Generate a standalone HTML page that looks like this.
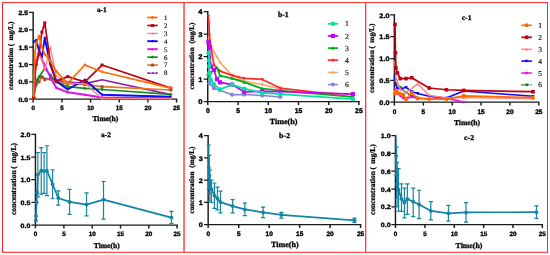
<!DOCTYPE html>
<html><head><meta charset="utf-8"><title>Concentration-time curves</title>
<style>html,body{margin:0;padding:0;background:#fff}svg{display:block}</style></head>
<body><svg width="550" height="255" viewBox="0 0 550 255" style="text-rendering:geometricPrecision">
<rect width="550" height="255" fill="#fff"/>
<path d="M33.15 11.83V102.60" stroke="#1a1a1a" stroke-width="1.45" fill="none"/>
<path d="M29.05 99.20H177.28M29.05 81.85H33.15M29.05 64.50H33.15M29.05 47.15H33.15M29.05 29.80H33.15M29.05 12.45H33.15" stroke="#1a1a1a" stroke-width="1.25" fill="none"/>
<path d="M61.95 99.20V102.60M90.60 99.20V102.60M119.25 99.20V102.60M147.90 99.20V102.60M176.55 99.20V102.60" stroke="#1a1a1a" stroke-width="1.45" fill="none"/>
<polyline points="33.78,97.47 36.16,83.59 39.03,77.69 41.89,76.30 44.76,78.38 50.49,79.07 56.22,80.11 67.68,81.85 84.87,83.59 102.06,79.77 170.82,94.69" fill="none" stroke="#9322a8" stroke-width="1.7" stroke-linejoin="round"/>











<polyline points="33.78,98.51 34.73,87.75 36.16,84.63 39.03,81.85 41.89,76.99 44.76,79.77 50.49,79.07 56.22,81.85 67.68,83.59 84.87,84.63 102.06,86.71 170.82,90.00" fill="none" stroke="#e8741c" stroke-width="1.7" stroke-linejoin="round"/>
<rect x="32.28" y="97.01" width="3.00" height="3.00" fill="#8a5a3a"/>
<rect x="33.23" y="86.25" width="3.00" height="3.00" fill="#8a5a3a"/>
<rect x="34.66" y="83.13" width="3.00" height="3.00" fill="#8a5a3a"/>
<rect x="37.53" y="80.35" width="3.00" height="3.00" fill="#8a5a3a"/>
<rect x="40.39" y="75.49" width="3.00" height="3.00" fill="#8a5a3a"/>
<rect x="43.26" y="78.27" width="3.00" height="3.00" fill="#8a5a3a"/>
<rect x="48.99" y="77.57" width="3.00" height="3.00" fill="#8a5a3a"/>
<rect x="54.72" y="80.35" width="3.00" height="3.00" fill="#8a5a3a"/>
<rect x="66.18" y="82.09" width="3.00" height="3.00" fill="#8a5a3a"/>
<rect x="83.37" y="83.13" width="3.00" height="3.00" fill="#8a5a3a"/>
<rect x="100.56" y="85.21" width="3.00" height="3.00" fill="#8a5a3a"/>
<rect x="169.32" y="88.50" width="3.00" height="3.00" fill="#8a5a3a"/>
<polyline points="33.78,98.51 34.73,83.59 39.03,76.82 44.76,68.49 50.49,75.26 56.22,81.85 67.68,86.71 84.87,88.44 102.06,89.48 170.82,94.34" fill="none" stroke="#138a22" stroke-width="1.7" stroke-linejoin="round"/>
<circle cx="33.78" cy="98.51" r="1.40" fill="#138a22"/>
<circle cx="34.73" cy="83.59" r="1.40" fill="#138a22"/>
<circle cx="39.03" cy="76.82" r="1.40" fill="#138a22"/>
<circle cx="44.76" cy="68.49" r="1.40" fill="#138a22"/>
<circle cx="50.49" cy="75.26" r="1.40" fill="#138a22"/>
<circle cx="56.22" cy="81.85" r="1.40" fill="#138a22"/>
<circle cx="67.68" cy="86.71" r="1.40" fill="#138a22"/>
<circle cx="84.87" cy="88.44" r="1.40" fill="#138a22"/>
<circle cx="102.06" cy="89.48" r="1.40" fill="#138a22"/>
<circle cx="170.82" cy="94.34" r="1.40" fill="#138a22"/>
<polyline points="33.78,97.47 34.73,71.44 36.16,61.03 39.03,51.31 41.89,59.30 44.76,65.19 50.49,77.69 56.22,87.75 67.68,92.26 84.87,94.69 102.06,97.47 170.82,98.51" fill="none" stroke="#e010e8" stroke-width="1.9" stroke-linejoin="round"/>
<path d="M32.38 97.47L33.78 96.06L35.18 97.47L33.78 98.87Z" fill="#e010e8"/>
<path d="M33.33 71.44L34.73 70.04L36.13 71.44L34.73 72.84Z" fill="#e010e8"/>
<path d="M34.77 61.03L36.16 59.63L37.56 61.03L36.16 62.43Z" fill="#e010e8"/>
<path d="M37.63 51.31L39.03 49.91L40.43 51.31L39.03 52.71Z" fill="#e010e8"/>
<path d="M40.49 59.30L41.89 57.90L43.29 59.30L41.89 60.70Z" fill="#e010e8"/>
<path d="M43.36 65.19L44.76 63.79L46.16 65.19L44.76 66.59Z" fill="#e010e8"/>
<path d="M49.09 77.69L50.49 76.29L51.89 77.69L50.49 79.09Z" fill="#e010e8"/>
<path d="M54.82 87.75L56.22 86.35L57.62 87.75L56.22 89.15Z" fill="#e010e8"/>
<path d="M66.28 92.26L67.68 90.86L69.08 92.26L67.68 93.66Z" fill="#e010e8"/>
<path d="M83.47 94.69L84.87 93.29L86.27 94.69L84.87 96.09Z" fill="#e010e8"/>
<path d="M100.66 97.47L102.06 96.06L103.46 97.47L102.06 98.87Z" fill="#e010e8"/>
<path d="M169.42 98.51L170.82 97.11L172.22 98.51L170.82 99.91Z" fill="#e010e8"/>
<polyline points="33.78,41.95 36.16,40.21 39.03,50.62 41.89,56.87 44.76,37.78 50.49,65.19 56.22,81.16 67.68,89.48 84.87,79.77 102.06,94.69 170.82,96.77" fill="none" stroke="#0a0aff" stroke-width="1.9" stroke-linejoin="round"/>
<path d="M32.38 40.83L35.18 40.83L33.78 43.34Z" fill="#0a0aff"/>
<path d="M34.77 39.09L37.56 39.09L36.16 41.61Z" fill="#0a0aff"/>
<path d="M37.63 49.50L40.43 49.50L39.03 52.02Z" fill="#0a0aff"/>
<path d="M40.49 55.75L43.29 55.75L41.89 58.27Z" fill="#0a0aff"/>
<path d="M43.36 36.66L46.16 36.66L44.76 39.18Z" fill="#0a0aff"/>
<path d="M49.09 64.07L51.89 64.07L50.49 66.59Z" fill="#0a0aff"/>
<path d="M54.82 80.04L57.62 80.04L56.22 82.56Z" fill="#0a0aff"/>
<path d="M66.28 88.36L69.08 88.36L67.68 90.88Z" fill="#0a0aff"/>
<path d="M83.47 78.65L86.27 78.65L84.87 81.17Z" fill="#0a0aff"/>
<path d="M100.66 93.57L103.46 93.57L102.06 96.09Z" fill="#0a0aff"/>
<path d="M169.42 95.65L172.22 95.65L170.82 98.17Z" fill="#0a0aff"/>
<polyline points="33.78,97.47 34.73,67.97 36.16,57.56 39.03,53.05 41.89,60.34 44.76,69.70 50.49,47.50 56.22,76.30 67.68,83.24 84.87,83.59 102.06,98.51 170.82,98.51" fill="none" stroke="#ff7f7f" stroke-width="1.25" stroke-linejoin="round"/>
<path d="M32.48 98.51L35.08 98.51L33.78 96.17Z" fill="#ff7f7f"/>
<path d="M33.43 69.01L36.03 69.01L34.73 66.67Z" fill="#ff7f7f"/>
<path d="M34.87 58.60L37.46 58.60L36.16 56.26Z" fill="#ff7f7f"/>
<path d="M37.73 54.09L40.33 54.09L39.03 51.75Z" fill="#ff7f7f"/>
<path d="M40.59 61.38L43.19 61.38L41.89 59.04Z" fill="#ff7f7f"/>
<path d="M43.46 70.75L46.06 70.75L44.76 68.41Z" fill="#ff7f7f"/>
<path d="M49.19 48.54L51.79 48.54L50.49 46.20Z" fill="#ff7f7f"/>
<path d="M54.92 77.34L57.52 77.34L56.22 75.00Z" fill="#ff7f7f"/>
<path d="M66.38 84.28L68.98 84.28L67.68 81.94Z" fill="#ff7f7f"/>
<path d="M83.57 84.63L86.17 84.63L84.87 82.29Z" fill="#ff7f7f"/>
<path d="M100.76 99.55L103.36 99.55L102.06 97.21Z" fill="#ff7f7f"/>
<path d="M169.52 99.55L172.12 99.55L170.82 97.21Z" fill="#ff7f7f"/>
<polyline points="33.78,97.47 34.73,78.38 36.16,64.50 39.03,54.09 41.89,32.23 44.76,22.86 50.49,62.77 56.22,81.16 67.68,76.64 84.87,81.85 102.06,65.02 170.82,88.10" fill="none" stroke="#c1000f" stroke-width="1.7" stroke-linejoin="round"/>
<rect x="32.28" y="95.97" width="3.00" height="3.00" fill="#c1000f"/>
<rect x="33.23" y="76.88" width="3.00" height="3.00" fill="#c1000f"/>
<rect x="34.66" y="63.00" width="3.00" height="3.00" fill="#c1000f"/>
<rect x="37.53" y="52.59" width="3.00" height="3.00" fill="#c1000f"/>
<rect x="40.39" y="30.73" width="3.00" height="3.00" fill="#c1000f"/>
<rect x="43.26" y="21.36" width="3.00" height="3.00" fill="#c1000f"/>
<rect x="48.99" y="61.27" width="3.00" height="3.00" fill="#c1000f"/>
<rect x="54.72" y="79.66" width="3.00" height="3.00" fill="#c1000f"/>
<rect x="66.18" y="75.14" width="3.00" height="3.00" fill="#c1000f"/>
<rect x="83.37" y="80.35" width="3.00" height="3.00" fill="#c1000f"/>
<rect x="100.56" y="63.52" width="3.00" height="3.00" fill="#c1000f"/>
<rect x="169.32" y="86.60" width="3.00" height="3.00" fill="#c1000f"/>
<polyline points="33.78,95.73 34.73,54.09 36.16,43.68 39.03,36.05 41.89,47.15 44.76,54.09 50.49,61.03 56.22,71.44 67.68,83.24 84.87,65.02 102.06,71.79 170.82,88.10" fill="none" stroke="#ff6a00" stroke-width="1.7" stroke-linejoin="round"/>
<circle cx="33.78" cy="95.73" r="1.40" fill="#ff6a00"/>
<circle cx="34.73" cy="54.09" r="1.40" fill="#ff6a00"/>
<circle cx="36.16" cy="43.68" r="1.40" fill="#ff6a00"/>
<circle cx="39.03" cy="36.05" r="1.40" fill="#ff6a00"/>
<circle cx="41.89" cy="47.15" r="1.40" fill="#ff6a00"/>
<circle cx="44.76" cy="54.09" r="1.40" fill="#ff6a00"/>
<circle cx="50.49" cy="61.03" r="1.40" fill="#ff6a00"/>
<circle cx="56.22" cy="71.44" r="1.40" fill="#ff6a00"/>
<circle cx="67.68" cy="83.24" r="1.40" fill="#ff6a00"/>
<circle cx="84.87" cy="65.02" r="1.40" fill="#ff6a00"/>
<circle cx="102.06" cy="71.79" r="1.40" fill="#ff6a00"/>
<circle cx="170.82" cy="88.10" r="1.40" fill="#ff6a00"/>
<text x="33.30" y="110.30" font-size="6.2" text-anchor="middle" font-family="Liberation Sans, Arial, sans-serif" font-weight="bold" stroke="#000" stroke-width="0.36" fill="#000">0</text>
<text x="61.95" y="110.30" font-size="6.2" text-anchor="middle" font-family="Liberation Sans, Arial, sans-serif" font-weight="bold" stroke="#000" stroke-width="0.36" fill="#000">5</text>
<text x="90.60" y="110.30" font-size="6.2" text-anchor="middle" font-family="Liberation Sans, Arial, sans-serif" font-weight="bold" stroke="#000" stroke-width="0.36" fill="#000">10</text>
<text x="119.25" y="110.30" font-size="6.2" text-anchor="middle" font-family="Liberation Sans, Arial, sans-serif" font-weight="bold" stroke="#000" stroke-width="0.36" fill="#000">15</text>
<text x="147.90" y="110.30" font-size="6.2" text-anchor="middle" font-family="Liberation Sans, Arial, sans-serif" font-weight="bold" stroke="#000" stroke-width="0.36" fill="#000">20</text>
<text x="176.55" y="110.30" font-size="6.2" text-anchor="middle" font-family="Liberation Sans, Arial, sans-serif" font-weight="bold" stroke="#000" stroke-width="0.36" fill="#000">25</text>
<text x="18.45" y="101.83" font-size="6.2" textLength="9.65" lengthAdjust="spacingAndGlyphs" font-family="Liberation Sans, Arial, sans-serif" font-weight="bold" stroke="#000" stroke-width="0.36" fill="#000">0.0</text>
<text x="18.45" y="84.48" font-size="6.2" textLength="9.65" lengthAdjust="spacingAndGlyphs" font-family="Liberation Sans, Arial, sans-serif" font-weight="bold" stroke="#000" stroke-width="0.36" fill="#000">0.5</text>
<text x="18.45" y="67.13" font-size="6.2" textLength="9.65" lengthAdjust="spacingAndGlyphs" font-family="Liberation Sans, Arial, sans-serif" font-weight="bold" stroke="#000" stroke-width="0.36" fill="#000">1.0</text>
<text x="18.45" y="49.78" font-size="6.2" textLength="9.65" lengthAdjust="spacingAndGlyphs" font-family="Liberation Sans, Arial, sans-serif" font-weight="bold" stroke="#000" stroke-width="0.36" fill="#000">1.5</text>
<text x="18.45" y="32.43" font-size="6.2" textLength="9.65" lengthAdjust="spacingAndGlyphs" font-family="Liberation Sans, Arial, sans-serif" font-weight="bold" stroke="#000" stroke-width="0.36" fill="#000">2.0</text>
<text x="18.45" y="15.08" font-size="6.2" textLength="9.65" lengthAdjust="spacingAndGlyphs" font-family="Liberation Sans, Arial, sans-serif" font-weight="bold" stroke="#000" stroke-width="0.36" fill="#000">2.5</text>
<text x="96.90" y="11.70" font-size="7.1" textLength="9.6" lengthAdjust="spacingAndGlyphs" font-family="Liberation Serif, Times New Roman, serif" font-weight="bold" stroke="#000" stroke-width="0.3" fill="#000">a-1</text>
<text x="92.40" y="121.30" font-size="7.5" textLength="25.9" lengthAdjust="spacingAndGlyphs" font-family="Liberation Serif, Times New Roman, serif" font-weight="bold" stroke="#000" stroke-width="0.3" fill="#000">Time(h)</text>
<text transform="translate(13.40 90.00) rotate(-90)" font-size="7.2" font-family="Liberation Serif, Times New Roman, serif" font-weight="bold" stroke="#000" stroke-width="0.25" fill="#000">concentration<tspan dx="1.5">(</tspan><tspan dx="1.5"> mg/L)</tspan></text>
<path d="M147.30 17.50H157.70" stroke="#ff6a00" stroke-width="1.7"/>
<circle cx="152.50" cy="17.50" r="1.40" fill="#ff6a00"/>
<text transform="translate(164.00 19.88) scale(0.25 0.25)" font-size="27.6" font-family="Liberation Serif, Times New Roman, serif" stroke="#111" stroke-width="0.6" fill="#000">1</text>
<path d="M147.30 25.50H157.70" stroke="#c1000f" stroke-width="1.7"/>
<rect x="151.00" y="24.00" width="3.00" height="3.00" fill="#c1000f"/>
<text transform="translate(164.00 27.88) scale(0.25 0.25)" font-size="27.6" font-family="Liberation Serif, Times New Roman, serif" stroke="#111" stroke-width="0.6" fill="#000">2</text>
<path d="M147.30 33.40H157.70" stroke="#ff7f7f" stroke-width="1.25"/>
<path d="M151.20 34.44L153.80 34.44L152.50 32.10Z" fill="#ff7f7f"/>
<text transform="translate(164.00 35.78) scale(0.25 0.25)" font-size="27.6" font-family="Liberation Serif, Times New Roman, serif" stroke="#111" stroke-width="0.6" fill="#000">3</text>
<path d="M147.30 41.20H157.70" stroke="#0a0aff" stroke-width="1.9"/>
<path d="M151.10 40.08L153.90 40.08L152.50 42.60Z" fill="#0a0aff"/>
<text transform="translate(164.00 43.58) scale(0.25 0.25)" font-size="27.6" font-family="Liberation Serif, Times New Roman, serif" stroke="#111" stroke-width="0.6" fill="#000">4</text>
<path d="M147.30 49.20H157.70" stroke="#e010e8" stroke-width="1.9"/>
<path d="M151.10 49.20L152.50 47.80L153.90 49.20L152.50 50.60Z" fill="#e010e8"/>
<text transform="translate(164.00 51.58) scale(0.25 0.25)" font-size="27.6" font-family="Liberation Serif, Times New Roman, serif" stroke="#111" stroke-width="0.6" fill="#000">5</text>
<path d="M147.30 57.20H157.70" stroke="#138a22" stroke-width="1.7"/>
<circle cx="152.50" cy="57.20" r="1.40" fill="#138a22"/>
<text transform="translate(164.00 59.58) scale(0.25 0.25)" font-size="27.6" font-family="Liberation Serif, Times New Roman, serif" stroke="#111" stroke-width="0.6" fill="#000">6</text>
<path d="M147.30 65.10H157.70" stroke="#e8741c" stroke-width="1.7"/>
<rect x="151.00" y="63.60" width="3.00" height="3.00" fill="#8a5a3a"/>
<text transform="translate(164.00 67.48) scale(0.25 0.25)" font-size="27.6" font-family="Liberation Serif, Times New Roman, serif" stroke="#111" stroke-width="0.6" fill="#000">7</text>
<path d="M147.30 73.10H157.70" stroke="#9322a8" stroke-width="1.7" stroke-dasharray="3.2 0.8"/>

<text transform="translate(164.00 75.48) scale(0.25 0.25)" font-size="27.6" font-family="Liberation Serif, Times New Roman, serif" stroke="#111" stroke-width="0.6" fill="#000">8</text>
<path d="M35.45 133.78V228.40" stroke="#1a1a1a" stroke-width="1.45" fill="none"/>
<path d="M31.35 225.00H177.82M31.35 202.35H35.45M31.35 179.70H35.45M31.35 157.05H35.45M31.35 134.40H35.45" stroke="#1a1a1a" stroke-width="1.25" fill="none"/>
<path d="M63.90 225.00V228.40M92.20 225.00V228.40M120.50 225.00V228.40M148.80 225.00V228.40M177.10 225.00V228.40" stroke="#1a1a1a" stroke-width="1.45" fill="none"/>
<path d="M37.86 152.52V196.91M35.76 152.52H39.96M35.76 196.91H39.96" stroke="#1583a3" stroke-width="1.2" fill="none"/>
<path d="M41.26 147.54V194.20M39.16 147.54H43.36M39.16 194.20H43.36" stroke="#1583a3" stroke-width="1.2" fill="none"/>
<path d="M44.09 152.52V193.29M41.99 152.52H46.19M41.99 193.29H46.19" stroke="#1583a3" stroke-width="1.2" fill="none"/>
<path d="M46.92 145.73V195.56M44.82 145.73H49.02M44.82 195.56H49.02" stroke="#1583a3" stroke-width="1.2" fill="none"/>
<path d="M52.58 169.73V198.73M50.48 169.73H54.68M50.48 198.73H54.68" stroke="#1583a3" stroke-width="1.2" fill="none"/>
<path d="M58.24 190.80V205.07M56.14 190.80H60.34M56.14 205.07H60.34" stroke="#1583a3" stroke-width="1.2" fill="none"/>
<path d="M69.56 189.39V214.31M67.46 189.39H71.66M67.46 214.31H71.66" stroke="#1583a3" stroke-width="1.2" fill="none"/>
<path d="M86.54 192.84V215.94M84.44 192.84H88.64M84.44 215.94H88.64" stroke="#1583a3" stroke-width="1.2" fill="none"/>
<path d="M103.52 181.51V219.20M101.42 181.51H105.62M101.42 219.20H105.62" stroke="#1583a3" stroke-width="1.2" fill="none"/>
<path d="M171.44 211.41V223.64M169.34 211.41H173.54M169.34 223.64H173.54" stroke="#1583a3" stroke-width="1.2" fill="none"/>
<polyline points="35.88,220.47 36.07,215.94 36.55,202.35 37.02,192.38 37.86,174.72 41.26,170.64 44.09,171.09 46.92,170.64 52.58,184.23 58.24,198.00 69.56,201.90 86.54,204.62 103.52,199.63 171.44,217.62" fill="none" stroke="#1583a3" stroke-width="1.7" stroke-linejoin="round"/>
<circle cx="35.88" cy="220.47" r="1.90" fill="#1583a3"/>
<circle cx="36.07" cy="215.94" r="1.90" fill="#1583a3"/>
<circle cx="36.55" cy="202.35" r="1.90" fill="#1583a3"/>
<circle cx="37.02" cy="192.38" r="1.90" fill="#1583a3"/>
<circle cx="37.86" cy="174.72" r="1.90" fill="#1583a3"/>
<circle cx="41.26" cy="170.64" r="1.90" fill="#1583a3"/>
<circle cx="44.09" cy="171.09" r="1.90" fill="#1583a3"/>
<circle cx="46.92" cy="170.64" r="1.90" fill="#1583a3"/>
<circle cx="52.58" cy="184.23" r="1.90" fill="#1583a3"/>
<circle cx="58.24" cy="198.00" r="1.90" fill="#1583a3"/>
<circle cx="69.56" cy="201.90" r="1.90" fill="#1583a3"/>
<circle cx="86.54" cy="204.62" r="1.90" fill="#1583a3"/>
<circle cx="103.52" cy="199.63" r="1.90" fill="#1583a3"/>
<circle cx="171.44" cy="217.62" r="1.90" fill="#1583a3"/>
<text x="35.60" y="236.00" font-size="6.3" text-anchor="middle" font-family="Liberation Sans, Arial, sans-serif" font-weight="bold" stroke="#000" stroke-width="0.36" fill="#000">0</text>
<text x="63.90" y="236.00" font-size="6.3" text-anchor="middle" font-family="Liberation Sans, Arial, sans-serif" font-weight="bold" stroke="#000" stroke-width="0.36" fill="#000">5</text>
<text x="92.20" y="236.00" font-size="6.3" text-anchor="middle" font-family="Liberation Sans, Arial, sans-serif" font-weight="bold" stroke="#000" stroke-width="0.36" fill="#000">10</text>
<text x="120.50" y="236.00" font-size="6.3" text-anchor="middle" font-family="Liberation Sans, Arial, sans-serif" font-weight="bold" stroke="#000" stroke-width="0.36" fill="#000">15</text>
<text x="148.80" y="236.00" font-size="6.3" text-anchor="middle" font-family="Liberation Sans, Arial, sans-serif" font-weight="bold" stroke="#000" stroke-width="0.36" fill="#000">20</text>
<text x="177.10" y="236.00" font-size="6.3" text-anchor="middle" font-family="Liberation Sans, Arial, sans-serif" font-weight="bold" stroke="#000" stroke-width="0.36" fill="#000">25</text>
<text x="20.59" y="227.67" font-size="6.3" textLength="9.81" lengthAdjust="spacingAndGlyphs" font-family="Liberation Sans, Arial, sans-serif" font-weight="bold" stroke="#000" stroke-width="0.36" fill="#000">0.0</text>
<text x="20.59" y="205.02" font-size="6.3" textLength="9.81" lengthAdjust="spacingAndGlyphs" font-family="Liberation Sans, Arial, sans-serif" font-weight="bold" stroke="#000" stroke-width="0.36" fill="#000">0.5</text>
<text x="20.59" y="182.37" font-size="6.3" textLength="9.81" lengthAdjust="spacingAndGlyphs" font-family="Liberation Sans, Arial, sans-serif" font-weight="bold" stroke="#000" stroke-width="0.36" fill="#000">1.0</text>
<text x="20.59" y="159.72" font-size="6.3" textLength="9.81" lengthAdjust="spacingAndGlyphs" font-family="Liberation Sans, Arial, sans-serif" font-weight="bold" stroke="#000" stroke-width="0.36" fill="#000">1.5</text>
<text x="20.59" y="137.07" font-size="6.3" textLength="9.81" lengthAdjust="spacingAndGlyphs" font-family="Liberation Sans, Arial, sans-serif" font-weight="bold" stroke="#000" stroke-width="0.36" fill="#000">2.0</text>
<text x="101.10" y="136.80" font-size="7.1" textLength="9.8" lengthAdjust="spacingAndGlyphs" font-family="Liberation Serif, Times New Roman, serif" font-weight="bold" stroke="#000" stroke-width="0.3" fill="#000">a-2</text>
<text x="93.80" y="247.90" font-size="7.5" textLength="25.9" lengthAdjust="spacingAndGlyphs" font-family="Liberation Serif, Times New Roman, serif" font-weight="bold" stroke="#000" stroke-width="0.3" fill="#000">Time(h)</text>
<text transform="translate(16.00 215.00) rotate(-90)" font-size="7.6" font-family="Liberation Serif, Times New Roman, serif" font-weight="bold" stroke="#000" stroke-width="0.25" fill="#000">concentration<tspan dx="1.5">(</tspan><tspan dx="1.5"> mg/L)</tspan></text>
<path d="M207.75 10.88V104.90" stroke="#1a1a1a" stroke-width="1.45" fill="none"/>
<path d="M203.65 101.50H359.62M203.65 79.00H207.75M203.65 56.50H207.75M203.65 34.00H207.75M203.65 11.50H207.75" stroke="#1a1a1a" stroke-width="1.25" fill="none"/>
<path d="M238.10 101.50V104.90M268.30 101.50V104.90M298.50 101.50V104.90M328.70 101.50V104.90M358.90 101.50V104.90" stroke="#1a1a1a" stroke-width="1.45" fill="none"/>
<polyline points="208.40,74.72 209.41,83.50 213.94,88.22 219.98,90.25 232.06,94.75 244.14,94.53 262.26,95.42 280.38,97.00" fill="none" stroke="#8484d6" stroke-width="1.5" stroke-linejoin="round"/>
<circle cx="208.40" cy="74.72" r="2.10" fill="#8484d6"/>
<circle cx="209.41" cy="83.50" r="2.10" fill="#8484d6"/>
<circle cx="213.94" cy="88.22" r="2.10" fill="#8484d6"/>
<circle cx="219.98" cy="90.25" r="2.10" fill="#8484d6"/>
<circle cx="232.06" cy="94.75" r="2.10" fill="#8484d6"/>
<circle cx="244.14" cy="94.53" r="2.10" fill="#8484d6"/>
<circle cx="262.26" cy="95.42" r="2.10" fill="#8484d6"/>
<circle cx="280.38" cy="97.00" r="2.10" fill="#8484d6"/>
<polyline points="208.91,38.50 210.92,46.37 216.96,56.95 219.98,62.35 232.06,75.40 244.14,81.25 262.26,84.40 280.38,88.90 352.86,94.75" fill="none" stroke="#ffa45c" stroke-width="1.5" stroke-linejoin="round"/>
<path d="M207.31 38.50L208.91 36.90L210.51 38.50L208.91 40.10Z" fill="#ffa45c"/>
<path d="M209.32 46.37L210.92 44.77L212.52 46.37L210.92 47.97Z" fill="#ffa45c"/>
<path d="M215.36 56.95L216.96 55.35L218.56 56.95L216.96 58.55Z" fill="#ffa45c"/>
<path d="M218.38 62.35L219.98 60.75L221.58 62.35L219.98 63.95Z" fill="#ffa45c"/>
<path d="M230.46 75.40L232.06 73.80L233.66 75.40L232.06 77.00Z" fill="#ffa45c"/>
<path d="M242.54 81.25L244.14 79.65L245.74 81.25L244.14 82.85Z" fill="#ffa45c"/>
<path d="M260.66 84.40L262.26 82.80L263.86 84.40L262.26 86.00Z" fill="#ffa45c"/>
<path d="M278.78 88.90L280.38 87.30L281.98 88.90L280.38 90.50Z" fill="#ffa45c"/>
<path d="M351.26 94.75L352.86 93.15L354.46 94.75L352.86 96.35Z" fill="#ffa45c"/>
<polyline points="208.40,16.45 208.91,22.75 209.41,35.12 210.92,46.60 213.94,64.83 219.98,71.12 232.06,75.40 244.14,78.33 262.26,79.45 280.38,88.00 352.86,97.00" fill="none" stroke="#ff2a2a" stroke-width="1.7" stroke-linejoin="round"/>
<path d="M206.70 15.09L210.10 15.09L208.40 18.15Z" fill="#ff2a2a"/>
<path d="M207.21 21.39L210.61 21.39L208.91 24.45Z" fill="#ff2a2a"/>
<path d="M207.71 33.77L211.11 33.77L209.41 36.83Z" fill="#ff2a2a"/>
<path d="M209.22 45.24L212.62 45.24L210.92 48.30Z" fill="#ff2a2a"/>
<path d="M212.24 63.47L215.64 63.47L213.94 66.53Z" fill="#ff2a2a"/>
<path d="M218.28 69.77L221.68 69.77L219.98 72.83Z" fill="#ff2a2a"/>
<path d="M230.36 74.04L233.76 74.04L232.06 77.10Z" fill="#ff2a2a"/>
<path d="M242.44 76.97L245.84 76.97L244.14 80.03Z" fill="#ff2a2a"/>
<path d="M260.56 78.09L263.96 78.09L262.26 81.15Z" fill="#ff2a2a"/>
<path d="M278.68 86.64L282.08 86.64L280.38 89.70Z" fill="#ff2a2a"/>
<path d="M351.16 95.64L354.56 95.64L352.86 98.70Z" fill="#ff2a2a"/>
<polyline points="208.40,76.75 209.41,74.50 210.92,72.25 213.94,70.00 216.96,67.75 219.98,75.62 232.06,78.33 244.14,82.15 262.26,88.67 280.38,90.70 352.86,97.00" fill="none" stroke="#00ad14" stroke-width="1.7" stroke-linejoin="round"/>
<path d="M206.50 78.27L210.30 78.27L208.40 74.85Z" fill="#00ad14"/>
<path d="M207.51 76.02L211.31 76.02L209.41 72.60Z" fill="#00ad14"/>
<path d="M209.02 73.77L212.82 73.77L210.92 70.35Z" fill="#00ad14"/>
<path d="M212.04 71.52L215.84 71.52L213.94 68.10Z" fill="#00ad14"/>
<path d="M215.06 69.27L218.86 69.27L216.96 65.85Z" fill="#00ad14"/>
<path d="M218.08 77.14L221.88 77.14L219.98 73.72Z" fill="#00ad14"/>
<path d="M230.16 79.84L233.96 79.84L232.06 76.42Z" fill="#00ad14"/>
<path d="M242.24 83.67L246.04 83.67L244.14 80.25Z" fill="#00ad14"/>
<path d="M260.36 90.19L264.16 90.19L262.26 86.77Z" fill="#00ad14"/>
<path d="M278.48 92.22L282.28 92.22L280.38 88.80Z" fill="#00ad14"/>
<path d="M350.96 98.52L354.76 98.52L352.86 95.10Z" fill="#00ad14"/>
<polyline points="208.40,41.88 209.41,47.50 210.92,66.62 213.94,70.00 216.96,79.22 219.98,82.38 232.06,84.62 244.14,91.83 262.26,91.38 280.38,91.60 352.86,94.08" fill="none" stroke="#c400ff" stroke-width="1.7" stroke-linejoin="round"/>
<rect x="206.30" y="39.77" width="4.20" height="4.20" fill="#c400ff"/>
<rect x="207.31" y="45.40" width="4.20" height="4.20" fill="#c400ff"/>
<rect x="208.82" y="64.53" width="4.20" height="4.20" fill="#c400ff"/>
<rect x="211.84" y="67.90" width="4.20" height="4.20" fill="#c400ff"/>
<rect x="214.86" y="77.12" width="4.20" height="4.20" fill="#c400ff"/>
<rect x="217.88" y="80.28" width="4.20" height="4.20" fill="#c400ff"/>
<rect x="229.96" y="82.53" width="4.20" height="4.20" fill="#c400ff"/>
<rect x="242.04" y="89.73" width="4.20" height="4.20" fill="#c400ff"/>
<rect x="260.16" y="89.28" width="4.20" height="4.20" fill="#c400ff"/>
<rect x="278.28" y="89.50" width="4.20" height="4.20" fill="#c400ff"/>
<rect x="350.76" y="91.98" width="4.20" height="4.20" fill="#c400ff"/>
<polyline points="208.40,52.68 208.91,60.55 209.11,65.95 209.41,72.92 210.92,80.12 213.94,84.17 219.98,89.35 232.06,84.62 244.14,88.67 262.26,92.95 280.38,94.08 352.86,99.03" fill="none" stroke="#00e2a0" stroke-width="1.7" stroke-linejoin="round"/>
<circle cx="208.40" cy="52.68" r="2.20" fill="#00e2a0"/>
<circle cx="208.91" cy="60.55" r="2.20" fill="#00e2a0"/>
<circle cx="209.11" cy="65.95" r="2.20" fill="#00e2a0"/>
<circle cx="209.41" cy="72.92" r="2.20" fill="#00e2a0"/>
<circle cx="210.92" cy="80.12" r="2.20" fill="#00e2a0"/>
<circle cx="213.94" cy="84.17" r="2.20" fill="#00e2a0"/>
<circle cx="219.98" cy="89.35" r="2.20" fill="#00e2a0"/>
<circle cx="232.06" cy="84.62" r="2.20" fill="#00e2a0"/>
<circle cx="244.14" cy="88.67" r="2.20" fill="#00e2a0"/>
<circle cx="262.26" cy="92.95" r="2.20" fill="#00e2a0"/>
<circle cx="280.38" cy="94.08" r="2.20" fill="#00e2a0"/>
<circle cx="352.86" cy="99.03" r="2.20" fill="#00e2a0"/>
<text x="207.90" y="113.10" font-size="6.8" text-anchor="middle" font-family="Liberation Sans, Arial, sans-serif" font-weight="bold" stroke="#000" stroke-width="0.36" fill="#000">0</text>
<text x="238.10" y="113.10" font-size="6.8" text-anchor="middle" font-family="Liberation Sans, Arial, sans-serif" font-weight="bold" stroke="#000" stroke-width="0.36" fill="#000">5</text>
<text x="268.30" y="113.10" font-size="6.8" text-anchor="middle" font-family="Liberation Sans, Arial, sans-serif" font-weight="bold" stroke="#000" stroke-width="0.36" fill="#000">10</text>
<text x="298.50" y="113.10" font-size="6.8" text-anchor="middle" font-family="Liberation Sans, Arial, sans-serif" font-weight="bold" stroke="#000" stroke-width="0.36" fill="#000">15</text>
<text x="328.70" y="113.10" font-size="6.8" text-anchor="middle" font-family="Liberation Sans, Arial, sans-serif" font-weight="bold" stroke="#000" stroke-width="0.36" fill="#000">20</text>
<text x="358.90" y="113.10" font-size="6.8" text-anchor="middle" font-family="Liberation Sans, Arial, sans-serif" font-weight="bold" stroke="#000" stroke-width="0.36" fill="#000">25</text>
<text x="198.27" y="104.35" font-size="6.8" textLength="4.23" lengthAdjust="spacingAndGlyphs" font-family="Liberation Sans, Arial, sans-serif" font-weight="bold" stroke="#000" stroke-width="0.36" fill="#000">0</text>
<text x="198.27" y="81.85" font-size="6.8" textLength="4.23" lengthAdjust="spacingAndGlyphs" font-family="Liberation Sans, Arial, sans-serif" font-weight="bold" stroke="#000" stroke-width="0.36" fill="#000">1</text>
<text x="198.27" y="59.35" font-size="6.8" textLength="4.23" lengthAdjust="spacingAndGlyphs" font-family="Liberation Sans, Arial, sans-serif" font-weight="bold" stroke="#000" stroke-width="0.36" fill="#000">2</text>
<text x="198.27" y="36.85" font-size="6.8" textLength="4.23" lengthAdjust="spacingAndGlyphs" font-family="Liberation Sans, Arial, sans-serif" font-weight="bold" stroke="#000" stroke-width="0.36" fill="#000">3</text>
<text x="198.27" y="14.35" font-size="6.8" textLength="4.23" lengthAdjust="spacingAndGlyphs" font-family="Liberation Sans, Arial, sans-serif" font-weight="bold" stroke="#000" stroke-width="0.36" fill="#000">4</text>
<text x="277.90" y="16.80" font-size="7.6" textLength="10.6" lengthAdjust="spacingAndGlyphs" font-family="Liberation Serif, Times New Roman, serif" font-weight="bold" stroke="#000" stroke-width="0.3" fill="#000">b-1</text>
<text x="269.70" y="124.00" font-size="7.9" textLength="27.7" lengthAdjust="spacingAndGlyphs" font-family="Liberation Serif, Times New Roman, serif" font-weight="bold" stroke="#000" stroke-width="0.3" fill="#000">Time(h)</text>
<text transform="translate(194.20 89.50) rotate(-90)" font-size="7.16" font-family="Liberation Serif, Times New Roman, serif" font-weight="bold" stroke="#000" stroke-width="0.25" fill="#000">concentration<tspan dx="2.0"> (mg/L)</tspan></text>
<path d="M327.80 23.80H338.10" stroke="#00e2a0" stroke-width="1.7"/>
<circle cx="332.95" cy="23.80" r="2.20" fill="#00e2a0"/>
<text transform="translate(345.00 26.46) scale(0.25 0.25)" font-size="30.8" font-family="Liberation Serif, Times New Roman, serif" stroke="#111" stroke-width="0.6" fill="#000">1</text>
<path d="M327.80 35.90H338.10" stroke="#c400ff" stroke-width="1.7"/>
<rect x="330.85" y="33.80" width="4.20" height="4.20" fill="#c400ff"/>
<text transform="translate(345.00 38.56) scale(0.25 0.25)" font-size="30.8" font-family="Liberation Serif, Times New Roman, serif" stroke="#111" stroke-width="0.6" fill="#000">2</text>
<path d="M327.80 48.10H338.10" stroke="#00ad14" stroke-width="1.7"/>
<path d="M331.05 49.62L334.85 49.62L332.95 46.20Z" fill="#00ad14"/>
<text transform="translate(345.00 50.76) scale(0.25 0.25)" font-size="30.8" font-family="Liberation Serif, Times New Roman, serif" stroke="#111" stroke-width="0.6" fill="#000">3</text>
<path d="M327.80 60.20H338.10" stroke="#ff2a2a" stroke-width="1.7"/>
<path d="M331.25 58.84L334.65 58.84L332.95 61.90Z" fill="#ff2a2a"/>
<text transform="translate(345.00 62.86) scale(0.25 0.25)" font-size="30.8" font-family="Liberation Serif, Times New Roman, serif" stroke="#111" stroke-width="0.6" fill="#000">4</text>
<path d="M327.80 72.40H338.10" stroke="#ffa45c" stroke-width="1.5"/>
<path d="M331.35 72.40L332.95 70.80L334.55 72.40L332.95 74.00Z" fill="#ffa45c"/>
<text transform="translate(345.00 75.06) scale(0.25 0.25)" font-size="30.8" font-family="Liberation Serif, Times New Roman, serif" stroke="#111" stroke-width="0.6" fill="#000">5</text>
<path d="M327.80 84.50H338.10" stroke="#8484d6" stroke-width="1.5"/>
<circle cx="332.95" cy="84.50" r="2.10" fill="#8484d6"/>
<text transform="translate(345.00 87.16) scale(0.25 0.25)" font-size="30.8" font-family="Liberation Serif, Times New Roman, serif" stroke="#111" stroke-width="0.6" fill="#000">6</text>
<path d="M208.15 135.07V227.90" stroke="#1a1a1a" stroke-width="1.45" fill="none"/>
<path d="M204.05 224.50H361.28M204.05 202.30H208.15M204.05 180.10H208.15M204.05 157.90H208.15M204.05 135.70H208.15" stroke="#1a1a1a" stroke-width="1.25" fill="none"/>
<path d="M238.75 224.50V227.90M269.20 224.50V227.90M299.65 224.50V227.90M330.10 224.50V227.90M360.55 224.50V227.90" stroke="#1a1a1a" stroke-width="1.45" fill="none"/>
<path d="M208.81 145.02V188.98M206.71 145.02H210.91M206.71 188.98H210.91" stroke="#1583a3" stroke-width="1.2" fill="none"/>
<path d="M209.32 155.46V193.42M207.22 155.46H211.42M207.22 193.42H211.42" stroke="#1583a3" stroke-width="1.2" fill="none"/>
<path d="M209.82 170.11V200.75M207.72 170.11H211.92M207.72 200.75H211.92" stroke="#1583a3" stroke-width="1.2" fill="none"/>
<path d="M211.34 180.10V202.30M209.25 180.10H213.44M209.25 202.30H213.44" stroke="#1583a3" stroke-width="1.2" fill="none"/>
<path d="M214.39 182.99V208.29M212.29 182.99H216.49M212.29 208.29H216.49" stroke="#1583a3" stroke-width="1.2" fill="none"/>
<path d="M217.44 187.20V209.85M215.34 187.20H219.53M215.34 209.85H219.53" stroke="#1583a3" stroke-width="1.2" fill="none"/>
<path d="M220.48 191.20V212.96M218.38 191.20H222.58M218.38 212.96H222.58" stroke="#1583a3" stroke-width="1.2" fill="none"/>
<path d="M232.66 199.64V212.96M230.56 199.64H234.76M230.56 212.96H234.76" stroke="#1583a3" stroke-width="1.2" fill="none"/>
<path d="M244.84 203.19V215.62M242.74 203.19H246.94M242.74 215.62H246.94" stroke="#1583a3" stroke-width="1.2" fill="none"/>
<path d="M263.11 207.18V217.62M261.01 207.18H265.21M261.01 217.62H265.21" stroke="#1583a3" stroke-width="1.2" fill="none"/>
<path d="M281.38 212.29V218.06M279.28 212.29H283.48M279.28 218.06H283.48" stroke="#1583a3" stroke-width="1.2" fill="none"/>
<path d="M354.46 218.06V222.50M352.36 218.06H356.56M352.36 222.50H356.56" stroke="#1583a3" stroke-width="1.2" fill="none"/>
<polyline points="208.81,167.67 209.32,175.66 209.82,182.32 211.34,188.98 214.39,195.42 217.44,198.53 220.48,202.08 232.66,206.07 244.84,209.40 263.11,212.29 281.38,214.95 354.46,220.28" fill="none" stroke="#1583a3" stroke-width="1.7" stroke-linejoin="round"/>
<circle cx="208.81" cy="167.67" r="1.90" fill="#1583a3"/>
<circle cx="209.32" cy="175.66" r="1.90" fill="#1583a3"/>
<circle cx="209.82" cy="182.32" r="1.90" fill="#1583a3"/>
<circle cx="211.34" cy="188.98" r="1.90" fill="#1583a3"/>
<circle cx="214.39" cy="195.42" r="1.90" fill="#1583a3"/>
<circle cx="217.44" cy="198.53" r="1.90" fill="#1583a3"/>
<circle cx="220.48" cy="202.08" r="1.90" fill="#1583a3"/>
<circle cx="232.66" cy="206.07" r="1.90" fill="#1583a3"/>
<circle cx="244.84" cy="209.40" r="1.90" fill="#1583a3"/>
<circle cx="263.11" cy="212.29" r="1.90" fill="#1583a3"/>
<circle cx="281.38" cy="214.95" r="1.90" fill="#1583a3"/>
<circle cx="354.46" cy="220.28" r="1.90" fill="#1583a3"/>
<text x="208.30" y="236.00" font-size="6.5" text-anchor="middle" font-family="Liberation Sans, Arial, sans-serif" font-weight="bold" stroke="#000" stroke-width="0.36" fill="#000">0</text>
<text x="238.75" y="236.00" font-size="6.5" text-anchor="middle" font-family="Liberation Sans, Arial, sans-serif" font-weight="bold" stroke="#000" stroke-width="0.36" fill="#000">5</text>
<text x="269.20" y="236.00" font-size="6.5" text-anchor="middle" font-family="Liberation Sans, Arial, sans-serif" font-weight="bold" stroke="#000" stroke-width="0.36" fill="#000">10</text>
<text x="299.65" y="236.00" font-size="6.5" text-anchor="middle" font-family="Liberation Sans, Arial, sans-serif" font-weight="bold" stroke="#000" stroke-width="0.36" fill="#000">15</text>
<text x="330.10" y="236.00" font-size="6.5" text-anchor="middle" font-family="Liberation Sans, Arial, sans-serif" font-weight="bold" stroke="#000" stroke-width="0.36" fill="#000">20</text>
<text x="360.55" y="236.00" font-size="6.5" text-anchor="middle" font-family="Liberation Sans, Arial, sans-serif" font-weight="bold" stroke="#000" stroke-width="0.36" fill="#000">25</text>
<text x="198.85" y="227.24" font-size="6.5" textLength="4.05" lengthAdjust="spacingAndGlyphs" font-family="Liberation Sans, Arial, sans-serif" font-weight="bold" stroke="#000" stroke-width="0.36" fill="#000">0</text>
<text x="198.85" y="205.04" font-size="6.5" textLength="4.05" lengthAdjust="spacingAndGlyphs" font-family="Liberation Sans, Arial, sans-serif" font-weight="bold" stroke="#000" stroke-width="0.36" fill="#000">1</text>
<text x="198.85" y="182.84" font-size="6.5" textLength="4.05" lengthAdjust="spacingAndGlyphs" font-family="Liberation Sans, Arial, sans-serif" font-weight="bold" stroke="#000" stroke-width="0.36" fill="#000">2</text>
<text x="198.85" y="160.64" font-size="6.5" textLength="4.05" lengthAdjust="spacingAndGlyphs" font-family="Liberation Sans, Arial, sans-serif" font-weight="bold" stroke="#000" stroke-width="0.36" fill="#000">3</text>
<text x="198.85" y="138.44" font-size="6.5" textLength="4.05" lengthAdjust="spacingAndGlyphs" font-family="Liberation Sans, Arial, sans-serif" font-weight="bold" stroke="#000" stroke-width="0.36" fill="#000">4</text>
<text x="279.10" y="138.20" font-size="7.5" textLength="11.0" lengthAdjust="spacingAndGlyphs" font-family="Liberation Serif, Times New Roman, serif" font-weight="bold" stroke="#000" stroke-width="0.3" fill="#000">b-2</text>
<text x="270.90" y="246.80" font-size="7.9" textLength="27.9" lengthAdjust="spacingAndGlyphs" font-family="Liberation Serif, Times New Roman, serif" font-weight="bold" stroke="#000" stroke-width="0.3" fill="#000">Time(h)</text>
<text transform="translate(194.00 213.50) rotate(-90)" font-size="7.15" font-family="Liberation Serif, Times New Roman, serif" font-weight="bold" stroke="#000" stroke-width="0.25" fill="#000">concentration<tspan dx="2.0"> (mg/L)</tspan></text>
<path d="M394.35 14.17V105.60" stroke="#1a1a1a" stroke-width="1.45" fill="none"/>
<path d="M390.25 102.20H539.48M390.25 80.35H394.35M390.25 58.50H394.35M390.25 36.65H394.35M390.25 14.80H394.35" stroke="#1a1a1a" stroke-width="1.25" fill="none"/>
<path d="M423.35 102.20V105.60M452.20 102.20V105.60M481.05 102.20V105.60M509.90 102.20V105.60M538.75 102.20V105.60" stroke="#1a1a1a" stroke-width="1.45" fill="none"/>
<polyline points="394.98,78.16 395.94,80.35 397.38,83.85 400.27,87.34 406.04,92.59 411.81,95.64 417.58,97.83 429.12,99.14" fill="none" stroke="#1c7a1c" stroke-width="1.3" stroke-linejoin="round"/>
<circle cx="394.98" cy="78.16" r="1.50" fill="#1c7a1c"/>
<circle cx="395.94" cy="80.35" r="1.50" fill="#1c7a1c"/>
<circle cx="397.38" cy="83.85" r="1.50" fill="#1c7a1c"/>
<circle cx="400.27" cy="87.34" r="1.50" fill="#1c7a1c"/>
<circle cx="406.04" cy="92.59" r="1.50" fill="#1c7a1c"/>
<circle cx="411.81" cy="95.64" r="1.50" fill="#1c7a1c"/>
<circle cx="417.58" cy="97.83" r="1.50" fill="#1c7a1c"/>
<circle cx="429.12" cy="99.14" r="1.50" fill="#1c7a1c"/>
<polyline points="394.98,89.09 395.94,91.28 397.38,93.46 400.27,95.64 403.15,97.83 406.04,98.70 411.81,96.96 417.58,98.27 429.12,98.70 446.43,98.27 463.74,101.98" fill="none" stroke="#e010e8" stroke-width="1.5" stroke-linejoin="round"/>
<path d="M393.28 89.09L394.98 87.39L396.68 89.09L394.98 90.79Z" fill="#e010e8"/>
<path d="M394.24 91.28L395.94 89.58L397.64 91.28L395.94 92.98Z" fill="#e010e8"/>
<path d="M395.69 93.46L397.38 91.76L399.08 93.46L397.38 95.16Z" fill="#e010e8"/>
<path d="M398.57 95.64L400.27 93.94L401.97 95.64L400.27 97.34Z" fill="#e010e8"/>
<path d="M401.45 97.83L403.15 96.13L404.85 97.83L403.15 99.53Z" fill="#e010e8"/>
<path d="M404.34 98.70L406.04 97.00L407.74 98.70L406.04 100.40Z" fill="#e010e8"/>
<path d="M410.11 96.96L411.81 95.26L413.51 96.96L411.81 98.66Z" fill="#e010e8"/>
<path d="M415.88 98.27L417.58 96.57L419.28 98.27L417.58 99.97Z" fill="#e010e8"/>
<path d="M427.42 98.70L429.12 97.00L430.82 98.70L429.12 100.40Z" fill="#e010e8"/>
<path d="M444.73 98.27L446.43 96.57L448.13 98.27L446.43 99.97Z" fill="#e010e8"/>
<path d="M462.04 101.98L463.74 100.28L465.44 101.98L463.74 103.68Z" fill="#e010e8"/>
<polyline points="394.98,76.85 395.94,84.72 397.38,88.22 400.27,89.09 406.04,87.34 411.81,91.71 417.58,93.46 429.12,96.30 446.43,98.05 463.74,91.06 532.98,96.30" fill="none" stroke="#0a0aff" stroke-width="1.6" stroke-linejoin="round"/>
<path d="M393.28 75.49L396.68 75.49L394.98 78.55Z" fill="#0a0aff"/>
<path d="M394.24 83.36L397.64 83.36L395.94 86.42Z" fill="#0a0aff"/>
<path d="M395.69 86.86L399.08 86.86L397.38 89.92Z" fill="#0a0aff"/>
<path d="M398.57 87.73L401.97 87.73L400.27 90.79Z" fill="#0a0aff"/>
<path d="M404.34 85.98L407.74 85.98L406.04 89.04Z" fill="#0a0aff"/>
<path d="M410.11 90.35L413.51 90.35L411.81 93.41Z" fill="#0a0aff"/>
<path d="M415.88 92.10L419.28 92.10L417.58 95.16Z" fill="#0a0aff"/>
<path d="M427.42 94.94L430.82 94.94L429.12 98.00Z" fill="#0a0aff"/>
<path d="M444.73 96.69L448.13 96.69L446.43 99.75Z" fill="#0a0aff"/>
<path d="M462.04 89.70L465.44 89.70L463.74 92.76Z" fill="#0a0aff"/>
<path d="M531.28 94.94L534.68 94.94L532.98 98.00Z" fill="#0a0aff"/>
<polyline points="394.98,62.00 395.94,80.35 397.38,82.97 400.27,89.09 406.04,92.59 417.58,83.85 429.12,95.21 446.43,97.83 463.74,97.61 532.98,98.70" fill="none" stroke="#ff8585" stroke-width="1.4" stroke-linejoin="round"/>
<path d="M393.28 63.36L396.68 63.36L394.98 60.30Z" fill="#ff8585"/>
<path d="M394.24 81.71L397.64 81.71L395.94 78.65Z" fill="#ff8585"/>
<path d="M395.69 84.33L399.08 84.33L397.38 81.27Z" fill="#ff8585"/>
<path d="M398.57 90.45L401.97 90.45L400.27 87.39Z" fill="#ff8585"/>
<path d="M404.34 93.95L407.74 93.95L406.04 90.89Z" fill="#ff8585"/>
<path d="M415.88 85.21L419.28 85.21L417.58 82.15Z" fill="#ff8585"/>
<path d="M427.42 96.57L430.82 96.57L429.12 93.51Z" fill="#ff8585"/>
<path d="M444.73 99.19L448.13 99.19L446.43 96.13Z" fill="#ff8585"/>
<path d="M462.04 98.97L465.44 98.97L463.74 95.91Z" fill="#ff8585"/>
<path d="M531.28 100.06L534.68 100.06L532.98 97.00Z" fill="#ff8585"/>
<polyline points="394.98,24.41 395.46,52.82 395.94,68.11 397.38,72.92 400.27,78.60 406.04,78.60 411.81,77.73 429.12,88.00 446.43,89.75 463.74,90.40 532.98,91.71" fill="none" stroke="#c1000f" stroke-width="1.7" stroke-linejoin="round"/>
<rect x="393.18" y="22.61" width="3.60" height="3.60" fill="#c1000f"/>
<rect x="393.66" y="51.02" width="3.60" height="3.60" fill="#c1000f"/>
<rect x="394.14" y="66.31" width="3.60" height="3.60" fill="#c1000f"/>
<rect x="395.58" y="71.12" width="3.60" height="3.60" fill="#c1000f"/>
<rect x="398.47" y="76.80" width="3.60" height="3.60" fill="#c1000f"/>
<rect x="404.24" y="76.80" width="3.60" height="3.60" fill="#c1000f"/>
<rect x="410.01" y="75.93" width="3.60" height="3.60" fill="#c1000f"/>
<rect x="427.32" y="86.20" width="3.60" height="3.60" fill="#c1000f"/>
<rect x="444.63" y="87.95" width="3.60" height="3.60" fill="#c1000f"/>
<rect x="461.94" y="88.60" width="3.60" height="3.60" fill="#c1000f"/>
<rect x="531.18" y="89.91" width="3.60" height="3.60" fill="#c1000f"/>
<polyline points="394.98,93.46 395.94,91.28 397.38,92.15 400.27,93.90 403.15,94.77 406.04,99.14 411.81,92.80 417.58,98.49 429.12,98.92 446.43,99.14 463.74,95.86 532.98,97.61" fill="none" stroke="#ff6a00" stroke-width="1.6" stroke-linejoin="round"/>
<circle cx="394.98" cy="93.46" r="2.00" fill="#ff6a00"/>
<circle cx="395.94" cy="91.28" r="2.00" fill="#ff6a00"/>
<circle cx="397.38" cy="92.15" r="2.00" fill="#ff6a00"/>
<circle cx="400.27" cy="93.90" r="2.00" fill="#ff6a00"/>
<circle cx="403.15" cy="94.77" r="2.00" fill="#ff6a00"/>
<circle cx="406.04" cy="99.14" r="2.00" fill="#ff6a00"/>
<circle cx="411.81" cy="92.80" r="2.00" fill="#ff6a00"/>
<circle cx="417.58" cy="98.49" r="2.00" fill="#ff6a00"/>
<circle cx="429.12" cy="98.92" r="2.00" fill="#ff6a00"/>
<circle cx="446.43" cy="99.14" r="2.00" fill="#ff6a00"/>
<circle cx="463.74" cy="95.86" r="2.00" fill="#ff6a00"/>
<circle cx="532.98" cy="97.61" r="2.00" fill="#ff6a00"/>
<text x="394.50" y="113.60" font-size="6.5" text-anchor="middle" font-family="Liberation Sans, Arial, sans-serif" font-weight="bold" stroke="#000" stroke-width="0.36" fill="#000">0</text>
<text x="423.35" y="113.60" font-size="6.5" text-anchor="middle" font-family="Liberation Sans, Arial, sans-serif" font-weight="bold" stroke="#000" stroke-width="0.36" fill="#000">5</text>
<text x="452.20" y="113.60" font-size="6.5" text-anchor="middle" font-family="Liberation Sans, Arial, sans-serif" font-weight="bold" stroke="#000" stroke-width="0.36" fill="#000">10</text>
<text x="481.05" y="113.60" font-size="6.5" text-anchor="middle" font-family="Liberation Sans, Arial, sans-serif" font-weight="bold" stroke="#000" stroke-width="0.36" fill="#000">15</text>
<text x="509.90" y="113.60" font-size="6.5" text-anchor="middle" font-family="Liberation Sans, Arial, sans-serif" font-weight="bold" stroke="#000" stroke-width="0.36" fill="#000">20</text>
<text x="538.75" y="113.60" font-size="6.5" text-anchor="middle" font-family="Liberation Sans, Arial, sans-serif" font-weight="bold" stroke="#000" stroke-width="0.36" fill="#000">25</text>
<text x="379.38" y="104.94" font-size="6.5" textLength="10.12" lengthAdjust="spacingAndGlyphs" font-family="Liberation Sans, Arial, sans-serif" font-weight="bold" stroke="#000" stroke-width="0.36" fill="#000">0.0</text>
<text x="379.38" y="83.09" font-size="6.5" textLength="10.12" lengthAdjust="spacingAndGlyphs" font-family="Liberation Sans, Arial, sans-serif" font-weight="bold" stroke="#000" stroke-width="0.36" fill="#000">0.5</text>
<text x="379.38" y="61.24" font-size="6.5" textLength="10.12" lengthAdjust="spacingAndGlyphs" font-family="Liberation Sans, Arial, sans-serif" font-weight="bold" stroke="#000" stroke-width="0.36" fill="#000">1.0</text>
<text x="379.38" y="39.39" font-size="6.5" textLength="10.12" lengthAdjust="spacingAndGlyphs" font-family="Liberation Sans, Arial, sans-serif" font-weight="bold" stroke="#000" stroke-width="0.36" fill="#000">1.5</text>
<text x="379.38" y="17.54" font-size="6.5" textLength="10.12" lengthAdjust="spacingAndGlyphs" font-family="Liberation Sans, Arial, sans-serif" font-weight="bold" stroke="#000" stroke-width="0.36" fill="#000">2.0</text>
<text x="461.75" y="19.80" font-size="7.3" textLength="9.7" lengthAdjust="spacingAndGlyphs" font-family="Liberation Serif, Times New Roman, serif" font-weight="bold" stroke="#000" stroke-width="0.3" fill="#000">c-1</text>
<text x="453.90" y="124.70" font-size="7.5" textLength="26.1" lengthAdjust="spacingAndGlyphs" font-family="Liberation Serif, Times New Roman, serif" font-weight="bold" stroke="#000" stroke-width="0.3" fill="#000">Time(h)</text>
<text transform="translate(374.20 92.90) rotate(-90)" font-size="7.31" font-family="Liberation Serif, Times New Roman, serif" font-weight="bold" stroke="#000" stroke-width="0.25" fill="#000">concentration<tspan dx="1.5">(</tspan><tspan dx="1.5"> mg/L)</tspan></text>
<path d="M521.30 25.30H531.90" stroke="#ff6a00" stroke-width="1.6"/>
<circle cx="526.60" cy="25.30" r="2.00" fill="#ff6a00"/>
<text transform="translate(538.20 27.89) scale(0.25 0.25)" font-size="30.0" font-family="Liberation Serif, Times New Roman, serif" stroke="#111" stroke-width="0.6" fill="#000">1</text>
<path d="M521.30 37.30H531.90" stroke="#c1000f" stroke-width="1.7"/>
<rect x="524.80" y="35.50" width="3.60" height="3.60" fill="#c1000f"/>
<text transform="translate(538.20 39.89) scale(0.25 0.25)" font-size="30.0" font-family="Liberation Serif, Times New Roman, serif" stroke="#111" stroke-width="0.6" fill="#000">2</text>
<path d="M521.30 49.20H531.90" stroke="#ff8585" stroke-width="1.4"/>
<path d="M524.90 50.56L528.30 50.56L526.60 47.50Z" fill="#ff8585"/>
<text transform="translate(538.20 51.79) scale(0.25 0.25)" font-size="30.0" font-family="Liberation Serif, Times New Roman, serif" stroke="#111" stroke-width="0.6" fill="#000">3</text>
<path d="M521.30 61.10H531.90" stroke="#0a0aff" stroke-width="1.6"/>
<path d="M524.90 59.74L528.30 59.74L526.60 62.80Z" fill="#0a0aff"/>
<text transform="translate(538.20 63.69) scale(0.25 0.25)" font-size="30.0" font-family="Liberation Serif, Times New Roman, serif" stroke="#111" stroke-width="0.6" fill="#000">4</text>
<path d="M521.30 73.00H531.90" stroke="#e010e8" stroke-width="1.5"/>
<path d="M524.90 73.00L526.60 71.30L528.30 73.00L526.60 74.70Z" fill="#e010e8"/>
<text transform="translate(538.20 75.59) scale(0.25 0.25)" font-size="30.0" font-family="Liberation Serif, Times New Roman, serif" stroke="#111" stroke-width="0.6" fill="#000">5</text>
<path d="M521.30 84.80H531.90" stroke="#1c7a1c" stroke-width="1.3" stroke-dasharray="3.5 1.2"/>
<circle cx="526.60" cy="84.80" r="1.50" fill="#1c7a1c"/>
<text transform="translate(538.20 87.39) scale(0.25 0.25)" font-size="30.0" font-family="Liberation Serif, Times New Roman, serif" stroke="#111" stroke-width="0.6" fill="#000">6</text>
<path d="M395.45 134.97V228.00" stroke="#1a1a1a" stroke-width="1.45" fill="none"/>
<path d="M391.35 224.60H543.08M391.35 206.80H395.45M391.35 189.00H395.45M391.35 171.20H395.45M391.35 153.40H395.45M391.35 135.60H395.45" stroke="#1a1a1a" stroke-width="1.25" fill="none"/>
<path d="M424.95 224.60V228.00M454.30 224.60V228.00M483.65 224.60V228.00M513.00 224.60V228.00M542.35 224.60V228.00" stroke="#1a1a1a" stroke-width="1.45" fill="none"/>
<path d="M396.09 135.60V175.65M393.99 175.65H398.19" stroke="#1583a3" stroke-width="1.2" fill="none"/>
<path d="M396.58 147.17V197.90M394.48 147.17H398.68M394.48 197.90H398.68" stroke="#1583a3" stroke-width="1.2" fill="none"/>
<path d="M397.07 162.30V206.80M394.97 162.30H399.17M394.97 206.80H399.17" stroke="#1583a3" stroke-width="1.2" fill="none"/>
<path d="M398.54 168.53V211.25M396.44 168.53H400.64M396.44 211.25H400.64" stroke="#1583a3" stroke-width="1.2" fill="none"/>
<path d="M401.47 183.93V211.43M399.37 183.93H403.57M399.37 211.43H403.57" stroke="#1583a3" stroke-width="1.2" fill="none"/>
<path d="M404.41 188.11V217.84M402.31 188.11H406.51M402.31 217.84H406.51" stroke="#1583a3" stroke-width="1.2" fill="none"/>
<path d="M407.34 183.93V214.28M405.24 183.93H409.44M405.24 214.28H409.44" stroke="#1583a3" stroke-width="1.2" fill="none"/>
<path d="M413.21 188.11V216.68M411.11 188.11H415.31M411.11 216.68H415.31" stroke="#1583a3" stroke-width="1.2" fill="none"/>
<path d="M419.08 190.25V218.64M416.98 190.25H421.18M416.98 218.64H421.18" stroke="#1583a3" stroke-width="1.2" fill="none"/>
<path d="M430.82 201.64V219.79M428.72 201.64H432.92M428.72 219.79H432.92" stroke="#1583a3" stroke-width="1.2" fill="none"/>
<path d="M448.43 205.47V221.22M446.33 205.47H450.53M446.33 221.22H450.53" stroke="#1583a3" stroke-width="1.2" fill="none"/>
<path d="M466.04 202.62V222.20M463.94 202.62H468.14M463.94 222.20H468.14" stroke="#1583a3" stroke-width="1.2" fill="none"/>
<path d="M536.48 205.91V218.37M534.38 205.91H538.58M534.38 218.37H538.58" stroke="#1583a3" stroke-width="1.2" fill="none"/>
<polyline points="396.09,156.07 396.58,174.76 397.07,183.93 398.54,189.89 401.47,198.79 404.41,202.62 407.34,198.97 413.21,201.64 419.08,204.49 430.82,210.81 448.43,213.30 466.04,212.41 536.48,212.14" fill="none" stroke="#1583a3" stroke-width="1.7" stroke-linejoin="round"/>
<circle cx="396.09" cy="156.07" r="1.90" fill="#1583a3"/>
<circle cx="396.58" cy="174.76" r="1.90" fill="#1583a3"/>
<circle cx="397.07" cy="183.93" r="1.90" fill="#1583a3"/>
<circle cx="398.54" cy="189.89" r="1.90" fill="#1583a3"/>
<circle cx="401.47" cy="198.79" r="1.90" fill="#1583a3"/>
<circle cx="404.41" cy="202.62" r="1.90" fill="#1583a3"/>
<circle cx="407.34" cy="198.97" r="1.90" fill="#1583a3"/>
<circle cx="413.21" cy="201.64" r="1.90" fill="#1583a3"/>
<circle cx="419.08" cy="204.49" r="1.90" fill="#1583a3"/>
<circle cx="430.82" cy="210.81" r="1.90" fill="#1583a3"/>
<circle cx="448.43" cy="213.30" r="1.90" fill="#1583a3"/>
<circle cx="466.04" cy="212.41" r="1.90" fill="#1583a3"/>
<circle cx="536.48" cy="212.14" r="1.90" fill="#1583a3"/>
<text x="395.60" y="236.10" font-size="6.3" text-anchor="middle" font-family="Liberation Sans, Arial, sans-serif" font-weight="bold" stroke="#000" stroke-width="0.36" fill="#000">0</text>
<text x="424.95" y="236.10" font-size="6.3" text-anchor="middle" font-family="Liberation Sans, Arial, sans-serif" font-weight="bold" stroke="#000" stroke-width="0.36" fill="#000">5</text>
<text x="454.30" y="236.10" font-size="6.3" text-anchor="middle" font-family="Liberation Sans, Arial, sans-serif" font-weight="bold" stroke="#000" stroke-width="0.36" fill="#000">10</text>
<text x="483.65" y="236.10" font-size="6.3" text-anchor="middle" font-family="Liberation Sans, Arial, sans-serif" font-weight="bold" stroke="#000" stroke-width="0.36" fill="#000">15</text>
<text x="513.00" y="236.10" font-size="6.3" text-anchor="middle" font-family="Liberation Sans, Arial, sans-serif" font-weight="bold" stroke="#000" stroke-width="0.36" fill="#000">20</text>
<text x="542.35" y="236.10" font-size="6.3" text-anchor="middle" font-family="Liberation Sans, Arial, sans-serif" font-weight="bold" stroke="#000" stroke-width="0.36" fill="#000">25</text>
<text x="380.79" y="227.27" font-size="6.3" textLength="9.81" lengthAdjust="spacingAndGlyphs" font-family="Liberation Sans, Arial, sans-serif" font-weight="bold" stroke="#000" stroke-width="0.36" fill="#000">0.0</text>
<text x="380.79" y="209.47" font-size="6.3" textLength="9.81" lengthAdjust="spacingAndGlyphs" font-family="Liberation Sans, Arial, sans-serif" font-weight="bold" stroke="#000" stroke-width="0.36" fill="#000">0.2</text>
<text x="380.79" y="191.67" font-size="6.3" textLength="9.81" lengthAdjust="spacingAndGlyphs" font-family="Liberation Sans, Arial, sans-serif" font-weight="bold" stroke="#000" stroke-width="0.36" fill="#000">0.4</text>
<text x="380.79" y="173.87" font-size="6.3" textLength="9.81" lengthAdjust="spacingAndGlyphs" font-family="Liberation Sans, Arial, sans-serif" font-weight="bold" stroke="#000" stroke-width="0.36" fill="#000">0.6</text>
<text x="380.79" y="156.07" font-size="6.3" textLength="9.81" lengthAdjust="spacingAndGlyphs" font-family="Liberation Sans, Arial, sans-serif" font-weight="bold" stroke="#000" stroke-width="0.36" fill="#000">0.8</text>
<text x="380.79" y="138.27" font-size="6.3" textLength="9.81" lengthAdjust="spacingAndGlyphs" font-family="Liberation Sans, Arial, sans-serif" font-weight="bold" stroke="#000" stroke-width="0.36" fill="#000">1.0</text>
<text x="464.10" y="139.60" font-size="7.2" textLength="10.0" lengthAdjust="spacingAndGlyphs" font-family="Liberation Serif, Times New Roman, serif" font-weight="bold" stroke="#000" stroke-width="0.3" fill="#000">c-2</text>
<text x="455.60" y="247.50" font-size="7.6" textLength="26.8" lengthAdjust="spacingAndGlyphs" font-family="Liberation Serif, Times New Roman, serif" font-weight="bold" stroke="#000" stroke-width="0.3" fill="#000">Time(h)</text>
<text transform="translate(374.50 214.90) rotate(-90)" font-size="7.44" font-family="Liberation Serif, Times New Roman, serif" font-weight="bold" stroke="#000" stroke-width="0.25" fill="#000">concentration<tspan dx="1.5">(</tspan><tspan dx="1.5"> mg/L)</tspan></text>
<rect x="2.5" y="2.6" width="545" height="249.7" fill="none" stroke="#ff2222" stroke-width="1"/>
<rect x="183.1" y="3" width="1.9" height="249" fill="#ff6a6a"/>
<rect x="365.1" y="3" width="1.2" height="249" fill="#ff2a2a"/>
</svg></body></html>
